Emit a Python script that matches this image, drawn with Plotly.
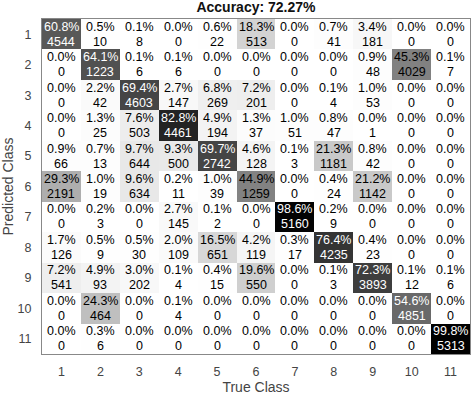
import numpy as np
import plotly.graph_objects as go

classes = [str(i) for i in range(1, 12)]
title_text = "Accuracy: 72.27%"

# rows = predicted class, cols = true class
row1 = [4544, 10, 8, 0, 22, 513, 0, 41, 181, 0, 0]
row2 = [0, 1223, 6, 6, 0, 0, 0, 0, 48, 4029, 7]
row3 = [0, 42, 4603, 147, 269, 201, 0, 4, 53, 0, 0]
row4 = [0, 25, 503, 4461, 194, 37, 51, 47, 1, 0, 0]
row5 = [66, 13, 644, 500, 2742, 128, 3, 1181, 42, 0, 0]
row6 = [2191, 19, 634, 11, 39, 1259, 0, 24, 1142, 0, 0]
row7 = [0, 3, 0, 145, 2, 0, 5160, 9, 0, 0, 0]
row8 = [126, 9, 30, 109, 651, 119, 17, 4235, 23, 0, 0]
row9 = [541, 93, 202, 4, 15, 550, 0, 3, 3893, 12, 6]
row10 = [0, 464, 0, 4, 0, 0, 0, 0, 0, 4851, 0]
row11 = [0, 6, 0, 0, 0, 0, 0, 0, 0, 0, 5313]

counts = np.array([row1, row2, row3, row4, row5, row6, row7, row8, row9, row10, row11])
pct = counts / counts.sum(axis=0, keepdims=True) * 100

font_family = "Arial, Liberation Sans, sans-serif"
gray_scale = [[0.0, "rgb(255,255,255)"], [0.18, "rgb(212,212,212)"], [0.3, "rgb(172,172,172)"],
              [0.45, "rgb(130,130,130)"], [0.6, "rgb(90,90,90)"], [0.7, "rgb(68,68,68)"],
              [0.83, "rgb(35,35,35)"], [1.0, "rgb(0,0,0)"]]

fig = go.Figure()
fig.add_trace(go.Heatmap(
    z=pct, x=list(range(1, 12)), y=list(range(1, 12)),
    zmin=0, zmax=100, colorscale=gray_scale,
    showscale=False, hoverinfo="skip", xgap=0, ygap=0,
))

annotations = []
n = len(classes)
for i in range(n):
    for j in range(n):
        p = pct[i, j]
        col = "white" if p > 50 else "black"
        annotations.append(dict(x=j + 1, y=i + 1, xref="x", yref="y",
                                text=f"{p:.1f}%", showarrow=False, yshift=7.5,
                                font=dict(size=12.5, color=col, family=font_family)))
        annotations.append(dict(x=j + 1, y=i + 1, xref="x", yref="y",
                                text=f"{counts[i, j]}", showarrow=False, yshift=-7.5,
                                font=dict(size=12.5, color=col, family=font_family)))

fig.update_layout(
    width=474, height=395,
    margin=dict(l=42, r=4, t=19, b=41, autoexpand=False),
    paper_bgcolor="white", plot_bgcolor="white",
    font=dict(family=font_family, color="#444444", size=12),
    title=dict(text=f"<b>{title_text}</b>", x=0.54, xanchor="center", y=0.995, yanchor="top",
               font=dict(size=14, color="#111111", family=font_family)),
    annotations=annotations,
)
fig.update_xaxes(range=[0.5, 11.5], tickvals=list(range(1, 12)), ticktext=classes,
                 showline=True, linecolor="#888888", linewidth=1, mirror=True,
                 showgrid=False, zeroline=False, ticks="", ticklabelstandoff=6,
                 title=dict(text="True Class", font=dict(size=14, color="#444444"), standoff=4),
                 tickfont=dict(size=12.5, color="#444444"))
fig.update_yaxes(range=[11.5, 0.5], tickvals=list(range(1, 12)), ticktext=classes,
                 showline=True, linecolor="#888888", linewidth=1, mirror=True,
                 showgrid=False, zeroline=False, ticks="", ticklabelstandoff=7,
                 title=dict(text="Predicted Class", font=dict(size=14, color="#444444"), standoff=6),
                 tickfont=dict(size=12.5, color="#444444"))

fig.write_html("out.html", config={"displayModeBar": False},
               post_script="document.body.style.margin='0';document.body.style.overflow='hidden';")
